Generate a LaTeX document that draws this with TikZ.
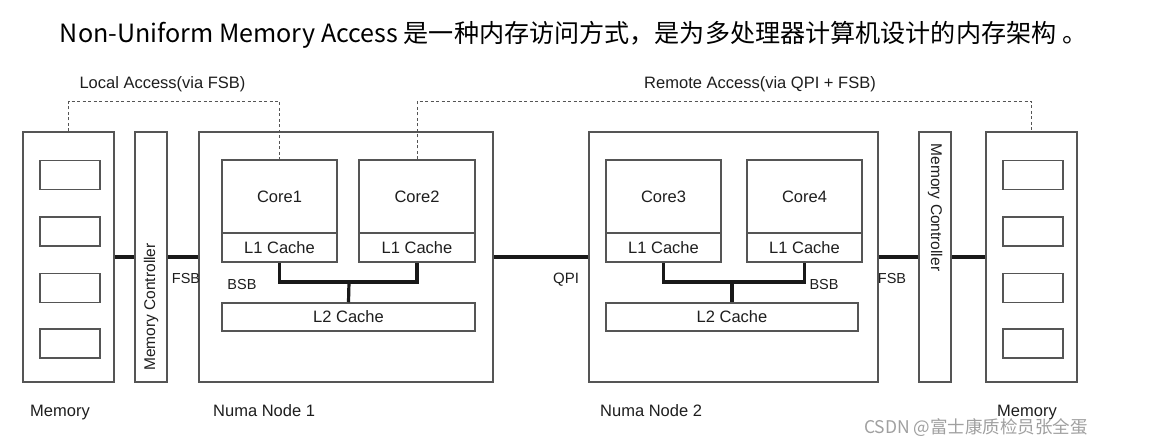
\documentclass[tikz,border=0pt]{standalone}
\usepackage{fontspec}
\setmainfont{Liberation Sans}
\newfontfamily\cjk{Noto Sans CJK SC}
\usepackage{xcolor}
\definecolor{linegray}{HTML}{555555}
\definecolor{textgray}{HTML}{1E1E1E}
\definecolor{markgray}{HTML}{A0A0A0}

\begin{document}
\begin{tikzpicture}[x=1pt,y=-1pt,
    box/.style={draw=linegray,line width=1.5pt,inner sep=0pt,text=textgray,
        font=\fontsize{16.5}{18}\selectfont},
    slot/.style={draw=linegray,line width=1.5pt,minimum width=60pt,minimum height=29pt},
    bus/.style={line width=3.2pt,black!90},
    access/.style={draw=linegray,line width=1pt,dash pattern=on 3pt off 2.5pt},
    lbl/.style={text=textgray,inner sep=0pt,font=\fontsize{16.5}{18}\selectfont},
    small/.style={text=textgray,inner sep=0pt,font=\fontsize{14.5}{16}\selectfont}]
    \fill[white] (0,0) rectangle (1159,447);
    \useasboundingbox (0,0) rectangle (1159,447);

    % title
    \node[inner sep=0pt,font=\cjk\fontsize{25.1}{28}\selectfont] (title) at (573.5,35)
        {Non-Uniform Memory Access 是一种内存访问方式，是为多处理器计算机设计的内存架构 。};

    % memory and memory controllers
    \node[box,minimum width=91pt,minimum height=250pt] (mem1) at (68.5,257) {};
    \node[box,minimum width=91pt,minimum height=250pt] (mem2) at (1031.5,257) {};
    \foreach \y [count=\i] in {175,231.5,288,343.5} {
        \node[slot] (slotl\i) at (70,\y) {};
        \node[slot] (slotr\i) at (1033,\y) {};
    }
    \node[box,minimum width=32pt,minimum height=250pt] (mc1) at (151,257) {};
    \node[box,minimum width=32pt,minimum height=250pt] (mc2) at (935,257) {};
    \node[lbl,rotate=90,font=\fontsize{15.5}{17}\selectfont] (mctext1) at (151,307) {Memory Controller};
    \node[lbl,rotate=-90,font=\fontsize{15.5}{17}\selectfont] (mctext2) at (935,207.5) {Memory Controller};

    % numa nodes
    \node[box,minimum width=294pt,minimum height=250pt] (numa1) at (346,257) {};
    \node[box,minimum width=289pt,minimum height=250pt] (numa2) at (733.5,257) {};

    % cores with L1 caches
    \foreach \name/\x/\w/\txt in {a/279.5/115/Core1, b/417/116/Core2, c/663.5/115/Core3, d/804.5/115/Core4} {
        \node[box,minimum width=\w pt,minimum height=73pt] (core\name) at (\x,196.5) {\txt};
        \node[box,minimum width=\w pt,minimum height=29pt] (lone\name) at (\x,247.5) {L1 Cache};
    }
    \node[box,minimum width=253pt,minimum height=28pt] (ltwoa) at (348.5,317) {L2 Cache};
    \node[box,minimum width=252pt,minimum height=28pt] (ltwob) at (732,317) {L2 Cache};

    % buses
    \draw[bus] (mem1) -- (mc1);
    \draw[bus] (mc1) -- (numa1);
    \draw[bus] (numa1) -- (numa2);
    \draw[bus] (numa2) -- (mc2);
    \draw[bus] (mc2) -- (mem2);
    \coordinate (bsba) at (349,282);
    \coordinate (bsbb) at (732,282);
    \draw[bus] (lonea.south) |- (bsba) -| (loneb.south);
    \draw[bus] (bsba) -- (ltwoa.north);
    \draw[bus] (lonec.south) |- (bsbb) -| (loned.south);
    \draw[bus] (bsbb) -- (ltwob.north);

    % access paths
    \draw[access] (mem1.north) -- ++(0,-30) coordinate (locala) -| (corea.north);
    \draw[access] (coreb.north) -- ++(0,-58) coordinate (remotea) -| (mem2.north);
    \node[lbl] (localtext) at (162.5,84) {Local Access(via FSB)};
    \node[lbl] (remotetext) at (760,84) {Remote Access(via QPI + FSB)};

    % bus labels
    \node[small] (fsba) at (186,279) {FSB};
    \node[small] (bsbtexta) at (242,285) {BSB};
    \node[small,font=\fontsize{15}{16}\selectfont] (qpi) at (566,280) {QPI};
    \node[small] (bsbtextb) at (824,285) {BSB};
    \node[small] (fsbb) at (892,279) {FSB};

    % captions
    \node[lbl,anchor=base west] (memtexta) at (30,416) {Memory};
    \node[lbl,anchor=base west] (numatexta) at (213,416) {Numa Node 1};
    \node[lbl,anchor=base west] (numatextb) at (600,416) {Numa Node 2};
    \node[lbl,anchor=base west] (memtextb) at (997,416) {Memory};
    \node[inner sep=0pt,text=markgray,font=\cjk\fontsize{17.5}{19}\selectfont] (mark) at (976,428)
        {CSDN @富士康质检员张全蛋};
\end{tikzpicture}
\end{document}
